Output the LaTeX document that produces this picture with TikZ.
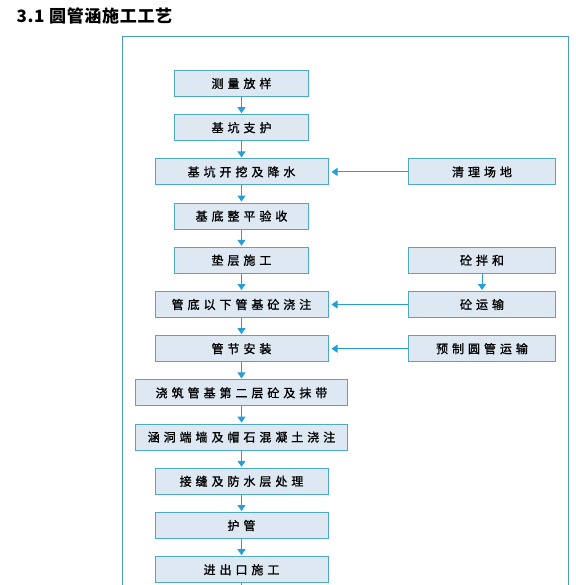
\documentclass[tikz,border=0pt]{standalone}
\usepackage{fontspec}
\usepackage{tikz}
\usetikzlibrary{arrows.meta}
\newfontfamily\cjk[LetterSpace=33,FakeBold=1.2]{Noto Sans CJK SC}
\newfontfamily\cjktitle[LetterSpace=4]{Noto Sans CJK SC}
\definecolor{boxfill}{RGB}{221,232,243}
\definecolor{boxline}{RGB}{78,168,200}
\definecolor{flowline}{RGB}{35,160,218}
\definecolor{framecol}{RGB}{72,158,190}

\begin{document}
\begin{tikzpicture}[x=1pt,y=-1pt,->,>={Triangle[width=8pt,length=6pt]},shorten >=1pt,
                    node distance=44.2pt,font=\cjk\fontsize{12}{14}\selectfont]
   \tikzstyle{box}=[draw=boxline,fill=boxfill,line width=1pt,minimum height=26pt,
                    inner sep=0pt,minimum width=134pt]
   \tikzstyle{midbox}=[box,minimum width=173pt]
   \tikzstyle{widebox}=[box,minimum width=212pt]
   \tikzstyle{sidebox}=[box,minimum width=147pt]
   \tikzstyle{flow}=[color=flowline,line width=1pt]

   \useasboundingbox (0,0) rectangle (575,585);
   \draw[-,draw=framecol,line width=1pt] (122.5,590) -- (122.5,36.5) -- (568,36.5) -- (568,590);

   \node[anchor=base west] (title) at (13,22.5)
        {\cjktitle\fontsize{17}{19}\selectfont\bfseries 3.1 圆管涵施工工艺};

   \node[box]     (celiang) at (241.5,83.5)   {测量放样};
   \node[box]     (zhihu)   [below of=celiang] {基坑支护};
   \node[midbox]  (kaiwa)   [below of=zhihu]   {基坑开挖及降水};
   \node[box]     (yanshou) [below of=kaiwa]   {基底整平验收};
   \node[box]     (dianceng)[below of=yanshou] {垫层施工};
   \node[midbox]  (guanji)  [below of=dianceng]{管底以下管基砼浇注};
   \node[midbox]  (anzhuang)[below of=guanji]  {管节安装};
   \node[widebox] (modai)   [below of=anzhuang]{浇筑管基第二层砼及抹带};
   \node[widebox] (duanqiang)[below of=modai]  {涵洞端墙及帽石混凝土浇注};
   \node[midbox]  (jiefeng) [below of=duanqiang]{接缝及防水层处理};
   \node[midbox]  (huguan)  [below of=jiefeng] {护管};
   \node[midbox]  (jinchu)  [below of=huguan]  {进出口施工};
   \coordinate    (down)    at (241.5,592);

   \node[sidebox] (qingli)  [right of=kaiwa,node distance=240.5pt]    {清理场地};
   \node[sidebox] (yunshu)  [right of=guanji,node distance=240.5pt]   {砼运输};
   \node[sidebox] (banhe)   [above of=yunshu]                        {砼拌和};
   \node[sidebox] (yuzhi)   [right of=anzhuang,node distance=240.5pt] {预制圆管运输};

   \path[flow] (celiang)  edge (zhihu)
               (zhihu)    edge (kaiwa)
               (kaiwa)    edge (yanshou)
               (yanshou)  edge (dianceng)
               (dianceng) edge (guanji)
               (guanji)   edge (anzhuang)
               (anzhuang) edge (modai)
               (modai)    edge (duanqiang)
               (duanqiang)edge (jiefeng)
               (jiefeng)  edge (huguan)
               (huguan)   edge (jinchu)
               (jinchu)   edge [-] (down)
               (qingli)   edge [shorten >=3pt] (kaiwa)
               (banhe)    edge (yunshu)
               (yunshu)   edge [shorten >=3pt] (guanji)
               (yuzhi)    edge [shorten >=3pt] (anzhuang);
\end{tikzpicture}
\end{document}
